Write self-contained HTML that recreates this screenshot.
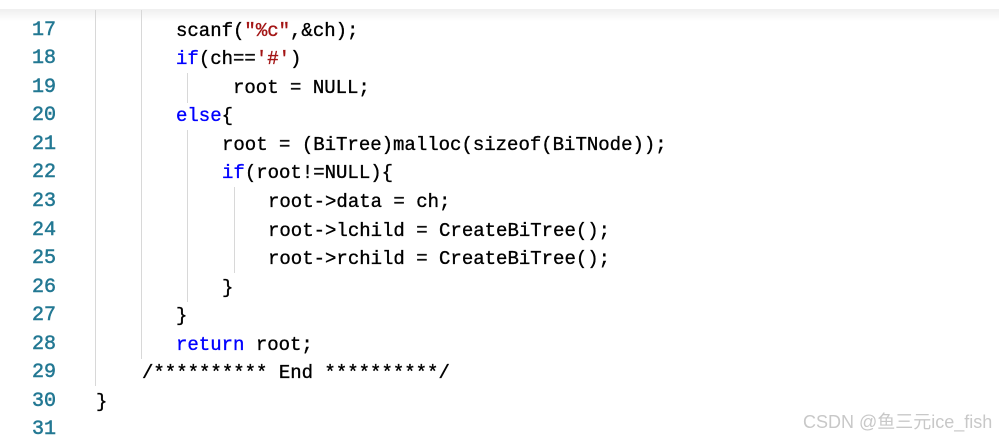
<!DOCTYPE html>
<html><head><meta charset="utf-8"><style>
html,body{margin:0;padding:0;background:#fff;}
body{width:999px;height:438px;position:relative;overflow:hidden;}
.top{position:absolute;left:0;top:9px;width:999px;height:12px;background:linear-gradient(#efefef,#fff);}
.g{position:absolute;width:1px;background:#d8d8d8;}
.n,.c{position:absolute;height:28px;line-height:28px;font-family:"Liberation Mono",monospace;font-size:19px;white-space:pre;-webkit-text-stroke:0.35px currentColor;}
.n{left:0;width:56px;text-align:right;color:#237893;font-size:20px;-webkit-text-stroke:0.5px currentColor;}
.c{color:#000;}
.k{color:#0000ff;}
.s{color:#a31515;}
.wm{position:absolute;left:803px;top:408px;font-family:"Liberation Sans","Noto Sans CJK SC",sans-serif;font-size:18px;color:#c8c8c8;}
</style></head><body>
<div class="top"></div>
<div class="g" style="left:95px;top:10px;height:376px"></div>
<div class="g" style="left:141px;top:10px;height:349px"></div>
<div class="g" style="left:187px;top:73px;height:30px"></div>
<div class="g" style="left:187px;top:130px;height:172px"></div>
<div class="g" style="left:234px;top:187px;height:86px"></div>

<div class="n" style="top:17px">17</div><div class="c" style="left:176px;top:17px">scanf(<span class="s">"%c"</span>,&amp;ch);</div>
<div class="n" style="top:45px">18</div><div class="c" style="left:176px;top:45px"><span class="k">if</span>(ch==<span class="s">'#'</span>)</div>
<div class="n" style="top:74px">19</div><div class="c" style="left:233px;top:74px">root = NULL;</div>
<div class="n" style="top:102px">20</div><div class="c" style="left:176px;top:102px"><span class="k">else</span>{</div>
<div class="n" style="top:131px">21</div><div class="c" style="left:222px;top:131px">root = (BiTree)malloc(sizeof(BiTNode));</div>
<div class="n" style="top:159px">22</div><div class="c" style="left:222px;top:159px"><span class="k">if</span>(root!=NULL){</div>
<div class="n" style="top:188px">23</div><div class="c" style="left:268px;top:188px">root-&gt;data = ch;</div>
<div class="n" style="top:217px">24</div><div class="c" style="left:268px;top:217px">root-&gt;lchild = CreateBiTree();</div>
<div class="n" style="top:245px">25</div><div class="c" style="left:268px;top:245px">root-&gt;rchild = CreateBiTree();</div>
<div class="n" style="top:274px">26</div><div class="c" style="left:222px;top:274px">}</div>
<div class="n" style="top:302px">27</div><div class="c" style="left:176px;top:302px">}</div>
<div class="n" style="top:331px">28</div><div class="c" style="left:176px;top:331px"><span class="k">return</span> root;</div>
<div class="n" style="top:359px">29</div><div class="c" style="left:142px;top:359px">/********** End **********/</div>
<div class="n" style="top:388px">30</div><div class="c" style="left:96px;top:388px">}</div>
<div class="n" style="top:416px">31</div>
<div class="wm">CSDN @鱼三元ice_fish</div>
</body></html>
